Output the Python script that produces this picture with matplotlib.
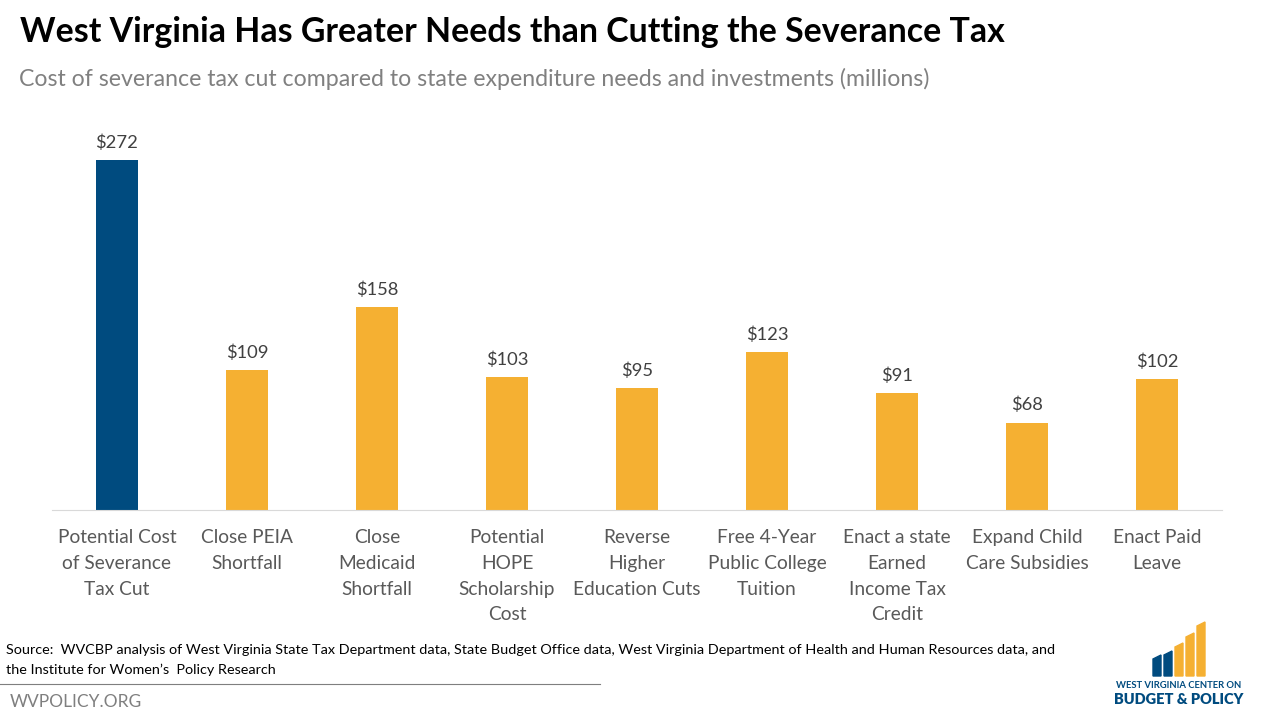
import numpy as np
import matplotlib.pyplot as plt
from matplotlib.patches import Polygon

plt.rcParams['font.family'] = ['Lato', 'DejaVu Sans']

# chart data
categories = ['Potential Cost\nof Severance\nTax Cut', 'Close PEIA\nShortfall',
              'Close\nMedicaid\nShortfall', 'Potential\nHOPE\nScholarship\nCost',
              'Reverse\nHigher\nEducation Cuts', 'Free 4-Year\nPublic College\nTuition',
              'Enact a state\nEarned\nIncome Tax\nCredit', 'Expand Child\nCare Subsidies',
              'Enact Paid\nLeave']
values = [272, 109, 158, 103, 95, 123, 91, 68, 102]
value_labels = ['$272', '$109', '$158', '$103', '$95', '$123', '$91', '$68', '$102']

navy = '#004B7F'
orange = '#F5B032'
colors = [navy] + [orange] * (len(values) - 1)

fig = plt.figure(figsize=(12.8, 7.2), dpi=100)
ax = fig.add_axes([52 / 1280, 210 / 720, 1170 / 1280, 386 / 720])

x = np.arange(len(categories))
ax.bar(x, values, width=0.32, color=colors)
for xi, v, lab in zip(x, values, value_labels):
    ax.text(xi, v + 7, lab, ha='center', va='bottom', fontsize=13.2, color='#404040')

ax.set_xlim(-0.5, len(categories) - 0.5)
ax.set_ylim(0, 300)
ax.set_yticks([])
ax.set_xticks(x)
ax.set_xticklabels(categories, fontsize=13.8, color='#595959', linespacing=1.62, va='top')
ax.tick_params(axis='x', length=0, pad=14)
for s in ['top', 'right', 'left']:
    ax.spines[s].set_visible(False)
ax.spines['bottom'].set_color('#D9D9D9')

# titles
fig.text(20 / 1280, 1 - 32 / 720, 'West Virginia Has Greater Needs than Cutting the Severance Tax',
         fontsize=24.4, fontweight='bold', color='black', va='center', ha='left')
fig.text(19 / 1280, 1 - 79 / 720,
         'Cost of severance tax cut compared to state expenditure needs and investments (millions)',
         fontsize=16.7, color='#808080', va='center', ha='left')

# source
fig.text(6 / 1280, 1 - 650 / 720,
         'Source:  WVCBP analysis of West Virginia State Tax Department data, State Budget Office data, '
         'West Virginia Department of Health and Human Resources data, and',
         fontsize=10.35, color='black', va='center', ha='left')
fig.text(6 / 1280, 1 - 670 / 720, 'the Institute for Women\u2019s  Policy Research',
         fontsize=10.35, color='black', va='center', ha='left')
fig.add_artist(plt.Line2D([0, 600 / 1280], [1 - 684 / 720, 1 - 684 / 720],
                          color='#7F7F7F', lw=0.8))
fig.text(10 / 1280, 1 - 702 / 720, 'WVPOLICY.ORG', fontsize=12.5, color='#7F7F7F',
         va='center', ha='left')

# logo
logo_bars = [(1153, 1161, 658, navy), (1164, 1172, 654, navy), (1175, 1183, 646, orange),
             (1186, 1194, 636, orange), (1197, 1205, 625, orange)]
for x0, x1, top, c in logo_bars:
    pts = [(x0, 676), (x1, 676), (x1, top - 3), (x0, top + 1)]
    fig.add_artist(Polygon([(px / 1280, 1 - py / 720) for px, py in pts],
                           closed=True, color=c, transform=fig.transFigure))
fig.text(1179 / 1280, 1 - 685 / 720, 'WEST VIRGINIA CENTER ON', fontsize=6.8, color=navy,
         fontweight='bold', ha='center', va='center')
fig.text(1179 / 1280, 1 - 699 / 720, 'BUDGET & POLICY', fontsize=10.5, color=navy,
         fontweight='heavy', ha='center', va='center')

fig.savefig('out.png', dpi=100)
